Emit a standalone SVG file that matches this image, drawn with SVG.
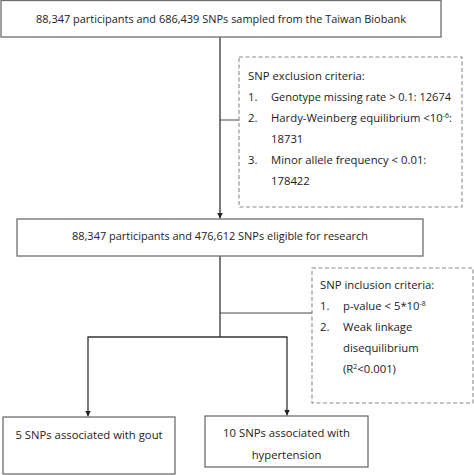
<svg xmlns="http://www.w3.org/2000/svg" width="474" height="475" viewBox="0 0 474 475">
<defs>
<style>
.box{fill:#fff;stroke:#6e6e6e;stroke-width:1.3}
.dash{fill:#fff;stroke:#8a8a8a;stroke-width:1.1;stroke-dasharray:4 2.5}
.ln{fill:none;stroke:#333;stroke-width:1.3}
text{font-family:"Open Sans","Noto Sans",sans-serif;font-size:11.3px;fill:#222}
.c{text-anchor:middle}
.sup{font-size:7px}
</style>
<marker id="ah" viewBox="0 0 10 10" refX="10" refY="5" markerWidth="6" markerHeight="6" orient="auto" markerUnits="userSpaceOnUse">
<path d="M0,0 L10,5 L0,10 z" fill="#222"/>
</marker>
</defs>
<rect width="474" height="475" fill="#fff"/>
<g id="connectors">
<line class="ln" x1="220" y1="37" x2="220" y2="218.5" marker-end="url(#ah)"/>
<line class="ln" x1="220" y1="120" x2="239" y2="120" style="stroke-width:0.9"/>
<polyline class="ln" points="220,256 220,337"/>
<line class="ln" x1="220" y1="313" x2="312" y2="313" style="stroke-width:0.9"/>
<line class="ln" x1="87.5" y1="337" x2="287.5" y2="337"/>
<line class="ln" x1="88" y1="337" x2="88" y2="416.5" marker-end="url(#ah)"/>
<line class="ln" x1="287" y1="337" x2="287" y2="415.5" marker-end="url(#ah)"/>
</g>
<g id="n1">
<rect class="box" x="1" y="0.5" width="440" height="36.5"/>
<text class="c" x="221" y="23" textLength="370" lengthAdjust="spacingAndGlyphs">88,347 participants and 686,439 SNPs sampled from the Taiwan Biobank</text>
</g>
<g id="exclusion">
<rect class="dash" x="239" y="57" width="223" height="150"/>
<text x="248" y="80">SNP exclusion criteria:</text>
<text x="248" y="101">1.</text>
<text x="271" y="101" textLength="180" lengthAdjust="spacingAndGlyphs">Genotype missing rate &gt; 0.1: 12674</text>
<text x="248" y="122">2.</text>
<text x="271" y="122">Hardy-Weinberg equilibrium &lt;10<tspan class="sup" dy="-4">-6</tspan><tspan dy="4">:</tspan></text>
<text x="271" y="143">18731</text>
<text x="248" y="164">3.</text>
<text x="271" y="164">Minor allele frequency &lt; 0.01:</text>
<text x="271" y="185">178422</text>
</g>
<g id="n2">
<rect class="box" x="17" y="219" width="406" height="37"/>
<text class="c" x="220" y="240" textLength="296" lengthAdjust="spacingAndGlyphs">88,347 participants and 476,612 SNPs eligible for research</text>
</g>
<g id="inclusion">
<rect class="dash" x="312" y="268" width="161" height="135"/>
<text x="320" y="289">SNP inclusion criteria:</text>
<text x="320" y="310">1.</text>
<text x="343" y="310">p-value &lt; 5*10<tspan class="sup" dy="-4">-8</tspan></text>
<text x="320" y="331">2.</text>
<text x="343" y="331">Weak linkage</text>
<text x="343" y="352">disequilibrium</text>
<text x="343" y="373">(R<tspan class="sup" dy="-4">2</tspan><tspan dy="4">&lt;0.001)</tspan></text>
</g>
<g id="gout">
<rect class="box" x="3" y="417" width="172" height="57"/>
<text class="c" x="89" y="439">5 SNPs associated with gout</text>
</g>
<g id="hypertension">
<rect class="box" x="205" y="416" width="163" height="51"/>
<text class="c" x="286.5" y="437">10 SNPs associated with</text>
<text class="c" x="286.5" y="459">hypertension</text>
</g>
</svg>
